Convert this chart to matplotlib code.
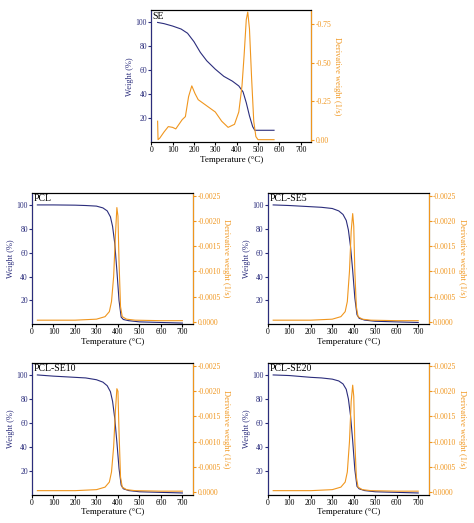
import matplotlib
matplotlib.use("Agg")
import matplotlib.pyplot as plt
from matplotlib.ticker import FuncFormatter

plt.rcParams["font.family"] = ["Liberation Serif", "DejaVu Serif"]
plt.rcParams["font.size"] = 5.5

NAVY = "#2b2d7c"
ORANGE = "#f0961e"

# SE sample
se_t = [30, 60, 100, 140, 170, 200, 230, 260, 300, 340, 380, 410, 430, 445, 460, 475, 485, 500, 550, 575]
se_w = [100, 99, 97, 94.5, 91, 84, 75, 68, 61, 55, 51, 47, 42, 33, 22, 13, 10, 10, 10, 10]
se_dt = [30, 32, 40, 60, 80, 100, 115, 130, 145, 160, 175, 190, 205, 220, 260, 300, 330, 360, 390, 410,
         425, 435, 445, 452, 460, 470, 480, 490, 500, 550, 575]
se_d = [0.12, 0.0, 0.01, 0.05, 0.085, 0.08, 0.07, 0.1, 0.13, 0.15, 0.28, 0.35, 0.30, 0.26, 0.22, 0.18,
        0.12, 0.08, 0.10, 0.18, 0.35, 0.55, 0.78, 0.83, 0.72, 0.40, 0.12, 0.02, 0.0, 0.0, 0.0]

# PCL blends
pcl_t = [25, 100, 200, 250, 300, 330, 350, 365, 375, 385, 395, 405, 415, 425, 450, 500, 600, 700]
weights = {
    "PCL":      [100, 100, 99.8, 99.5, 99, 97.5, 95, 90, 82, 68, 45, 20, 6, 4, 3, 2, 1.5, 1],
    "PCL-SE5":  [100, 99.5, 98.5, 98, 97, 95, 92, 87, 79, 65, 45, 22, 8, 5, 3.5, 2.5, 2, 1.5],
    "PCL-SE10": [100, 99, 98, 97.5, 96, 94, 91, 86, 78, 64, 44, 22, 8, 5, 3.5, 2.5, 2, 1.5],
    "PCL-SE20": [100, 99.5, 98, 97.5, 96.5, 95, 92.5, 88, 80, 66, 45, 21, 7, 5, 3.5, 2.5, 2, 1.5],
}
pcl_dt = [25, 100, 200, 300, 340, 360, 370, 380, 388, 395, 400, 405, 412, 420, 440, 480, 600, 700]
derivs = {
    "PCL":      [0.00003, 0.00003, 0.00003, 0.00005, 0.0001, 0.0002, 0.0004, 0.0009, 0.0017, 0.00227, 0.0021, 0.0012, 0.0003, 0.0001, 0.00005, 0.00003, 0.00002, 0.00002],
    "PCL-SE5":  [0.00003, 0.00003, 0.00003, 0.00005, 0.0001, 0.0002, 0.0004, 0.0010, 0.0018, 0.00215, 0.0019, 0.0010, 0.0003, 0.0001, 0.00005, 0.00003, 0.00002, 0.00002],
    "PCL-SE10": [0.00003, 0.00003, 0.00003, 0.00005, 0.0001, 0.0002, 0.0004, 0.0009, 0.0016, 0.00205, 0.0020, 0.0012, 0.0003, 0.0001, 0.00005, 0.00003, 0.00002, 0.00002],
    "PCL-SE20": [0.00003, 0.00003, 0.00003, 0.00005, 0.0001, 0.0002, 0.0004, 0.0010, 0.0018, 0.00212, 0.0019, 0.0010, 0.0003, 0.0001, 0.00005, 0.00003, 0.00002, 0.00002],
}


def neg_fmt(dec):
    return FuncFormatter(lambda v, p: f"{0:.{dec}f}" if abs(v) < 1e-12 else f"-{v:.{dec}f}")


def draw(rect, label, t, w, dt, d, dmax, dticks, dec):
    ax = fig.add_axes(rect)
    ax.plot(t, w, color=NAVY, lw=0.8)
    ax.set_xlim(0, 750)
    ax.set_ylim(0, 110)
    ax.set_xticks(range(0, 701, 100))
    ax.set_yticks([20, 40, 60, 80, 100])
    ax.set_xlabel("Temperature (\u00b0C)", fontsize=6.5, labelpad=1)
    ax.set_ylabel("Weight (%)", color=NAVY, fontsize=6, labelpad=1)
    ax.tick_params(axis="y", colors=NAVY, length=2, pad=1)
    ax.tick_params(axis="x", length=2, pad=1)
    ax.text(0.01, 0.99, label, transform=ax.transAxes, va="top", fontsize=7)
    ax2 = ax.twinx()
    ax2.plot(dt, d, color=ORANGE, lw=0.8)
    ax2.set_ylim(-dmax * 0.02, dmax)
    ax2.set_yticks(dticks)
    ax2.yaxis.set_major_formatter(neg_fmt(dec))
    ax2.tick_params(axis="y", colors=ORANGE, length=2, pad=1)
    ax2.spines["right"].set_color(ORANGE)
    ax2.spines["left"].set_color(NAVY)
    ax2.set_ylabel("Derivative weight (1/s)", color=ORANGE, rotation=270, labelpad=7, fontsize=6)


fig = plt.figure(figsize=(4.74, 5.23), dpi=100)

draw([0.319, 0.728, 0.338, 0.252], "SE", se_t, se_w, se_dt, se_d, 0.84,
     [0, 0.25, 0.5, 0.75], 2)

rects = {
    "PCL":      [0.0675, 0.380, 0.34, 0.251],
    "PCL-SE5":  [0.565, 0.380, 0.34, 0.251],
    "PCL-SE10": [0.0675, 0.054, 0.34, 0.252],
    "PCL-SE20": [0.565, 0.054, 0.34, 0.252],
}
for name, rect in rects.items():
    draw(rect, name, pcl_t, weights[name], pcl_dt, derivs[name], 0.00256,
         [0, 0.0005, 0.001, 0.0015, 0.002, 0.0025], 4)

fig.savefig("out.png", dpi=100)
